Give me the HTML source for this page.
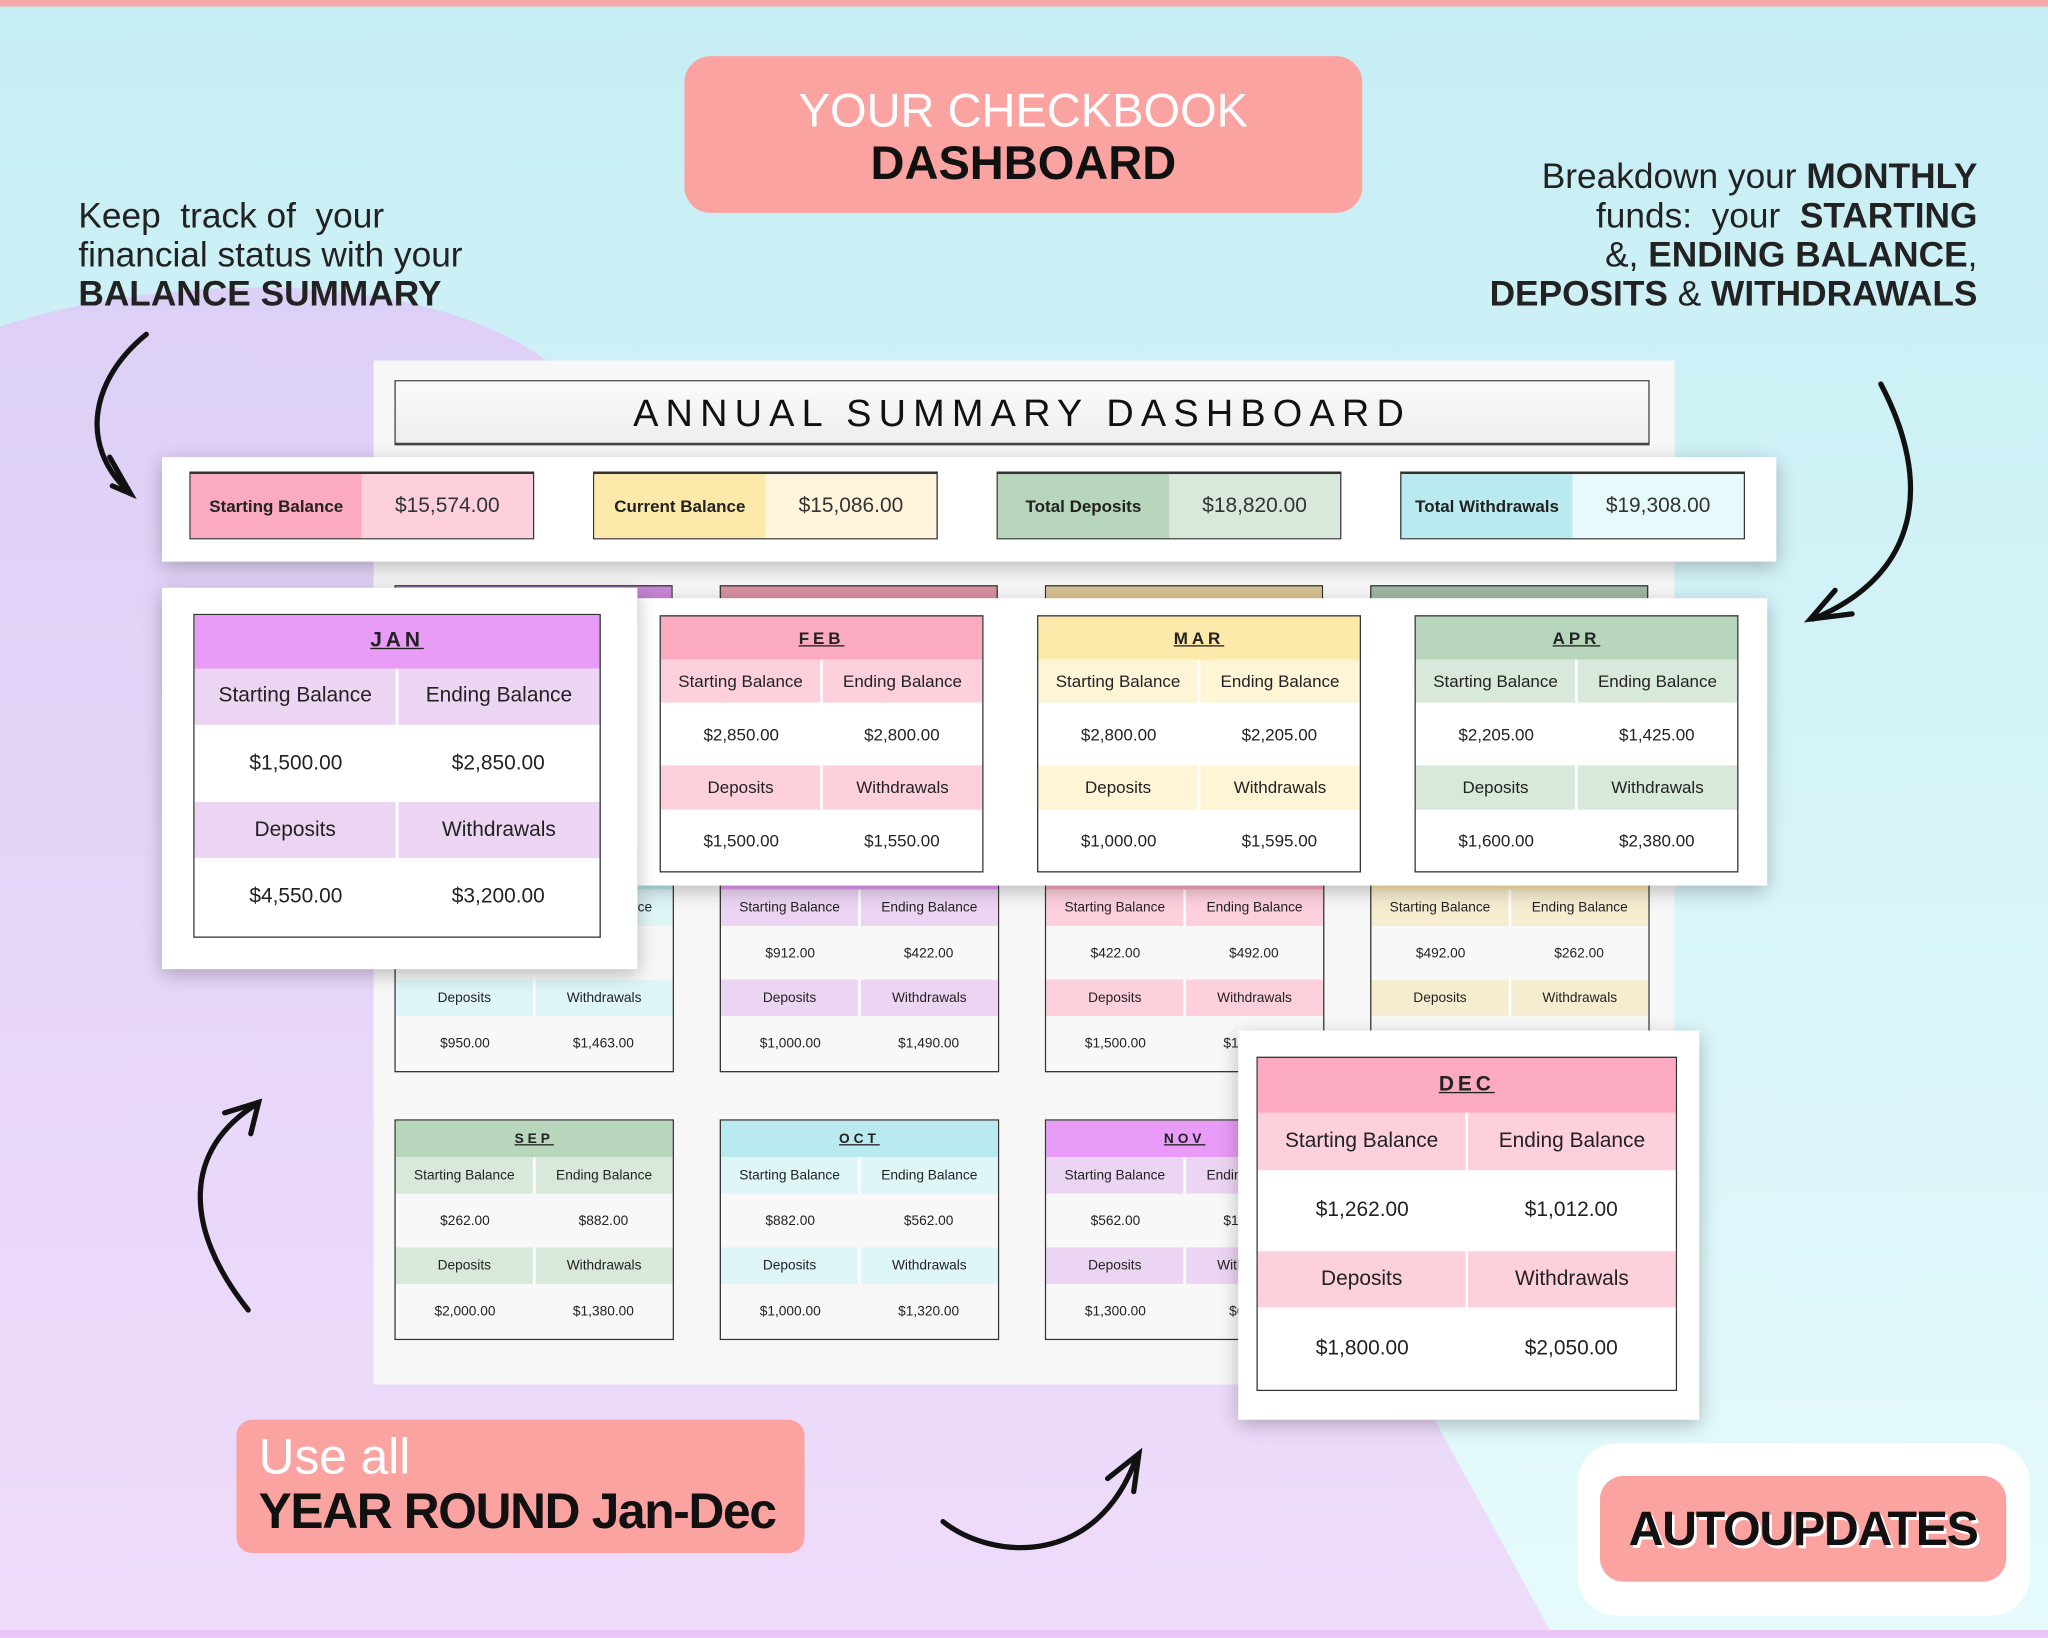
<!DOCTYPE html>
<html><head><meta charset="utf-8"><style>
*{margin:0;padding:0;box-sizing:border-box}
html,body{width:2048px;height:1638px;overflow:hidden}
body{font-family:"Liberation Sans",sans-serif;background:#c9eff5}
#w{position:absolute;left:0;top:0;width:1568px;height:1254px;transform:scale(1.306122);transform-origin:0 0;overflow:hidden}
.a{position:absolute}
.t{position:absolute;border:1.5px solid #333;background:#fff;display:flex;flex-direction:column;overflow:hidden}
.hd{display:flex;align-items:center;justify-content:center;font-weight:bold;letter-spacing:3px;text-decoration:underline;color:#222}
.r{display:flex}
.r span{flex:1;display:flex;align-items:center;justify-content:center;color:#222}
.l span:first-child{border-right:2px solid #fff}
.v{background:#fff}
.sm{font-size:10.5px}
.md{font-size:13px}
.lg{font-size:16px}
.sum{position:absolute;top:361px;width:264px;height:52px;border:1.5px solid #333;border-top-width:2px;display:flex}
.sum div{flex:1;display:flex;align-items:center;justify-content:center}
.sum div:first-child{font-weight:bold;font-size:13px;color:#222}
.sum div:last-child{font-size:16px;color:#333}
.wc{position:absolute;background:#fff;box-shadow:0 4px 14px rgba(0,0,0,.25)}
</style></head><body><div id="w">
<svg class="a" style="left:0;top:0" width="1568" height="1254">
<defs><linearGradient id="g" x1="0" y1="0" x2="0" y2="1"><stop offset="0" stop-color="#ddd0f6"/><stop offset="1" stop-color="#efdcfb"/></linearGradient>
<linearGradient id="g2" x1="0" y1="0" x2="0" y2="1"><stop offset="0" stop-color="#c6eef5"/><stop offset="1" stop-color="#e6fafb"/></linearGradient></defs>
<rect width="1568" height="1254" fill="url(#g2)"/>
<path d="M0 250 C120 210 330 200 430 285 C700 500 1000 900 1100 1090 L1190 1254 L0 1254 Z" fill="url(#g)"/>
<rect x="0" y="0" width="1568" height="5" fill="#f7a9a8"/>
<rect x="0" y="1248" width="1568" height="6" fill="#e9c4f7"/>
<g fill="none" stroke="#111" stroke-width="4" stroke-linecap="round">
<path d="M112 256 C70 290 60 340 98 376"/><path d="M84 350 L100 378 L86 372" />
<path d="M1440 294 C1480 370 1470 440 1388 474"/><path d="M1405 452 L1386 474 L1418 470"/>
<path d="M190 1003 C140 940 140 880 197 845"/><path d="M172 852 L198 844 L192 868"/>
<path d="M722 1165 C760 1195 840 1200 870 1116"/><path d="M848 1132 L872 1113 L868 1142"/>
</g></svg>

<div class="a" style="left:524px;top:43px;width:519px;height:120px;background:#fba3a1;border-radius:20px;text-align:center;font-size:36px;line-height:40px;padding-top:22px">
<div style="color:#fff;font-weight:300">YOUR CHECKBOOK</div><div style="font-weight:bold;color:#111">DASHBOARD</div></div>

<div class="a" style="left:60px;top:150px;font-size:27px;line-height:30px;color:#222">Keep&nbsp; track of&nbsp; your<br>financial status with your<br><b>BALANCE SUMMARY</b></div>
<div class="a" style="right:54px;top:120px;font-size:27px;line-height:30px;color:#222;text-align:right">Breakdown your <b>MONTHLY</b><br>funds:&nbsp; your&nbsp; <b>STARTING</b><br>&amp;, <b>ENDING BALANCE</b>,<br><b>DEPOSITS</b> &amp; <b>WITHDRAWALS</b></div>

<div class="a" style="left:286px;top:276px;width:996px;height:784px;background:#f7f7f7"></div>
<div class="a" style="left:302px;top:291px;width:961px;height:50px;border:1.5px solid #444;border-bottom-width:2px;background:linear-gradient(#fafafa,#eee);text-align:center;font-size:29px;line-height:50px;letter-spacing:5.5px;color:#111">ANNUAL SUMMARY DASHBOARD</div>

<div class="t" style="left:302px;top:448px;width:213px;height:168px"><div class="hd" style="height:27px;background:#c986d8"></div></div>
<div class="t" style="left:551px;top:448px;width:213px;height:168px"><div class="hd" style="height:27px;background:#d7909f"></div></div>
<div class="t" style="left:800px;top:448px;width:213px;height:168px"><div class="hd" style="height:27px;background:#d6c291"></div></div>
<div class="t" style="left:1049px;top:448px;width:213px;height:168px"><div class="hd" style="height:27px;background:#9fb8a1"></div></div>

<div class="t sm" style="left:302px;top:652px;width:214px;height:169px"><div class="hd" style="height:28px;background:#b9eaf0">MAY</div>
<div class="r l" style="height:28px;background:#dff6f9"><span>Starting Balance</span><span>Ending Balance</span></div>
<div class="r v" style="height:42px;background:#f8f8f8"><span>$1,425.00</span><span>$912.00</span></div>
<div class="r l" style="height:28px;background:#dff6f9"><span>Deposits</span><span>Withdrawals</span></div>
<div class="r v" style="height:42px;background:#f8f8f8"><span>$950.00</span><span>$1,463.00</span></div></div>
<div class="t sm" style="left:551px;top:652px;width:214px;height:169px"><div class="hd" style="height:28px;background:#e89bf7">JUN</div>
<div class="r l" style="height:28px;background:#ecd5f3"><span>Starting Balance</span><span>Ending Balance</span></div>
<div class="r v" style="height:42px;background:#f8f8f8"><span>$912.00</span><span>$422.00</span></div>
<div class="r l" style="height:28px;background:#ecd5f3"><span>Deposits</span><span>Withdrawals</span></div>
<div class="r v" style="height:42px;background:#f8f8f8"><span>$1,000.00</span><span>$1,490.00</span></div></div>
<div class="t sm" style="left:800px;top:652px;width:214px;height:169px"><div class="hd" style="height:28px;background:#fbaabf">JUL</div>
<div class="r l" style="height:28px;background:#fdd0dc"><span>Starting Balance</span><span>Ending Balance</span></div>
<div class="r v" style="height:42px;background:#f8f8f8"><span>$422.00</span><span>$492.00</span></div>
<div class="r l" style="height:28px;background:#fdd0dc"><span>Deposits</span><span>Withdrawals</span></div>
<div class="r v" style="height:42px;background:#f8f8f8"><span>$1,500.00</span><span>$1,430.00</span></div></div>
<div class="t sm" style="left:1049px;top:652px;width:214px;height:169px"><div class="hd" style="height:28px;background:#fde9a9">AUG</div>
<div class="r l" style="height:28px;background:#f6ecd0"><span>Starting Balance</span><span>Ending Balance</span></div>
<div class="r v" style="height:42px;background:#f8f8f8"><span>$492.00</span><span>$262.00</span></div>
<div class="r l" style="height:28px;background:#f6ecd0"><span>Deposits</span><span>Withdrawals</span></div>
<div class="r v" style="height:42px;background:#f8f8f8"><span>$1,000.00</span><span>$1,230.00</span></div></div>

<div class="t sm" style="left:302px;top:857px;width:214px;height:169px"><div class="hd" style="height:28px;background:#b8d6bb">SEP</div>
<div class="r l" style="height:28px;background:#d8e8da"><span>Starting Balance</span><span>Ending Balance</span></div>
<div class="r v" style="height:42px;background:#f8f8f8"><span>$262.00</span><span>$882.00</span></div>
<div class="r l" style="height:28px;background:#d8e8da"><span>Deposits</span><span>Withdrawals</span></div>
<div class="r v" style="height:42px;background:#f8f8f8"><span>$2,000.00</span><span>$1,380.00</span></div></div>
<div class="t sm" style="left:551px;top:857px;width:214px;height:169px"><div class="hd" style="height:28px;background:#b9eaf0">OCT</div>
<div class="r l" style="height:28px;background:#dff6f9"><span>Starting Balance</span><span>Ending Balance</span></div>
<div class="r v" style="height:42px;background:#f8f8f8"><span>$882.00</span><span>$562.00</span></div>
<div class="r l" style="height:28px;background:#dff6f9"><span>Deposits</span><span>Withdrawals</span></div>
<div class="r v" style="height:42px;background:#f8f8f8"><span>$1,000.00</span><span>$1,320.00</span></div></div>
<div class="t sm" style="left:800px;top:857px;width:214px;height:169px"><div class="hd" style="height:28px;background:#e89bf7">NOV</div>
<div class="r l" style="height:28px;background:#ecd5f3"><span>Starting Balance</span><span>Ending Balance</span></div>
<div class="r v" style="height:42px;background:#f8f8f8"><span>$562.00</span><span>$1,262.00</span></div>
<div class="r l" style="height:28px;background:#ecd5f3"><span>Deposits</span><span>Withdrawals</span></div>
<div class="r v" style="height:42px;background:#f8f8f8"><span>$1,300.00</span><span>$600.00</span></div></div>

<div class="wc" style="left:124px;top:350px;width:1236px;height:80px"></div>
<div class="sum" style="left:145px"><div style="background:#fbaabf">Starting Balance</div><div style="background:#fdd0dc">$15,574.00</div></div>
<div class="sum" style="left:454px"><div style="background:#fde9a9">Current Balance</div><div style="background:#fef5dc">$15,086.00</div></div>
<div class="sum" style="left:763px"><div style="background:#b8d6bb">Total Deposits</div><div style="background:#d8e8da">$18,820.00</div></div>
<div class="sum" style="left:1072px"><div style="background:#b9eaf0">Total Withdrawals</div><div style="background:#e6f9fb">$19,308.00</div></div>

<div class="wc" style="left:488px;top:458px;width:865px;height:220px"></div>
<div class="t md" style="left:505px;top:471px;width:248px;height:197px"><div class="hd" style="height:33px;background:#fbaabf">FEB</div>
<div class="r l" style="height:34px;background:#fdd0dc"><span>Starting Balance</span><span>Ending Balance</span></div>
<div class="r v" style="height:48px"><span>$2,850.00</span><span>$2,800.00</span></div>
<div class="r l" style="height:34px;background:#fdd0dc"><span>Deposits</span><span>Withdrawals</span></div>
<div class="r v" style="height:48px"><span>$1,500.00</span><span>$1,550.00</span></div></div>
<div class="t md" style="left:794px;top:471px;width:248px;height:197px"><div class="hd" style="height:33px;background:#fde9a9">MAR</div>
<div class="r l" style="height:34px;background:#fef5d6"><span>Starting Balance</span><span>Ending Balance</span></div>
<div class="r v" style="height:48px"><span>$2,800.00</span><span>$2,205.00</span></div>
<div class="r l" style="height:34px;background:#fef5d6"><span>Deposits</span><span>Withdrawals</span></div>
<div class="r v" style="height:48px"><span>$1,000.00</span><span>$1,595.00</span></div></div>
<div class="t md" style="left:1083px;top:471px;width:248px;height:197px"><div class="hd" style="height:33px;background:#b8d6bb">APR</div>
<div class="r l" style="height:34px;background:#d8e8da"><span>Starting Balance</span><span>Ending Balance</span></div>
<div class="r v" style="height:48px"><span>$2,205.00</span><span>$1,425.00</span></div>
<div class="r l" style="height:34px;background:#d8e8da"><span>Deposits</span><span>Withdrawals</span></div>
<div class="r v" style="height:48px"><span>$1,600.00</span><span>$2,380.00</span></div></div>

<div class="wc" style="left:124px;top:450px;width:364px;height:292px"></div>
<div class="t lg" style="left:148px;top:470px;width:312px;height:248px"><div class="hd" style="height:41px;background:#e89bf7">JAN</div>
<div class="r l" style="height:43px;background:#ecd5f3"><span>Starting Balance</span><span>Ending Balance</span></div>
<div class="r v" style="height:60px"><span>$1,500.00</span><span>$2,850.00</span></div>
<div class="r l" style="height:43px;background:#ecd5f3"><span>Deposits</span><span>Withdrawals</span></div>
<div class="r v" style="height:60px"><span>$4,550.00</span><span>$3,200.00</span></div></div>

<div class="wc" style="left:948px;top:789px;width:353px;height:298px"></div>
<div class="t lg" style="left:962px;top:809px;width:322px;height:256px"><div class="hd" style="height:42px;background:#fbaabf">DEC</div>
<div class="r l" style="height:44px;background:#fdd0dc"><span>Starting Balance</span><span>Ending Balance</span></div>
<div class="r v" style="height:63px"><span>$1,262.00</span><span>$1,012.00</span></div>
<div class="r l" style="height:43px;background:#fdd0dc"><span>Deposits</span><span>Withdrawals</span></div>
<div class="r v" style="height:63px"><span>$1,800.00</span><span>$2,050.00</span></div></div>

<div class="a" style="left:181px;top:1087px;width:435px;height:102px;background:#fba3a1;border-radius:12px;padding:8px 0 0 17px;font-size:38px;line-height:42px">
<div style="color:#fff;font-weight:300">Use all</div><div style="font-weight:bold;color:#111;letter-spacing:-1px">YEAR ROUND Jan-Dec</div></div>

<div class="a" style="left:1208px;top:1105px;width:346px;height:132px;background:#fff;border-radius:30px"></div>
<div class="a" style="left:1225px;top:1130px;width:311px;height:81px;background:#fba3a1;border-radius:18px;text-align:center;line-height:81px;font-size:37px;font-weight:bold;color:#111;letter-spacing:-1px;text-shadow:2px 2px 0 #fff">AUTOUPDATES</div>
</div></body></html>
